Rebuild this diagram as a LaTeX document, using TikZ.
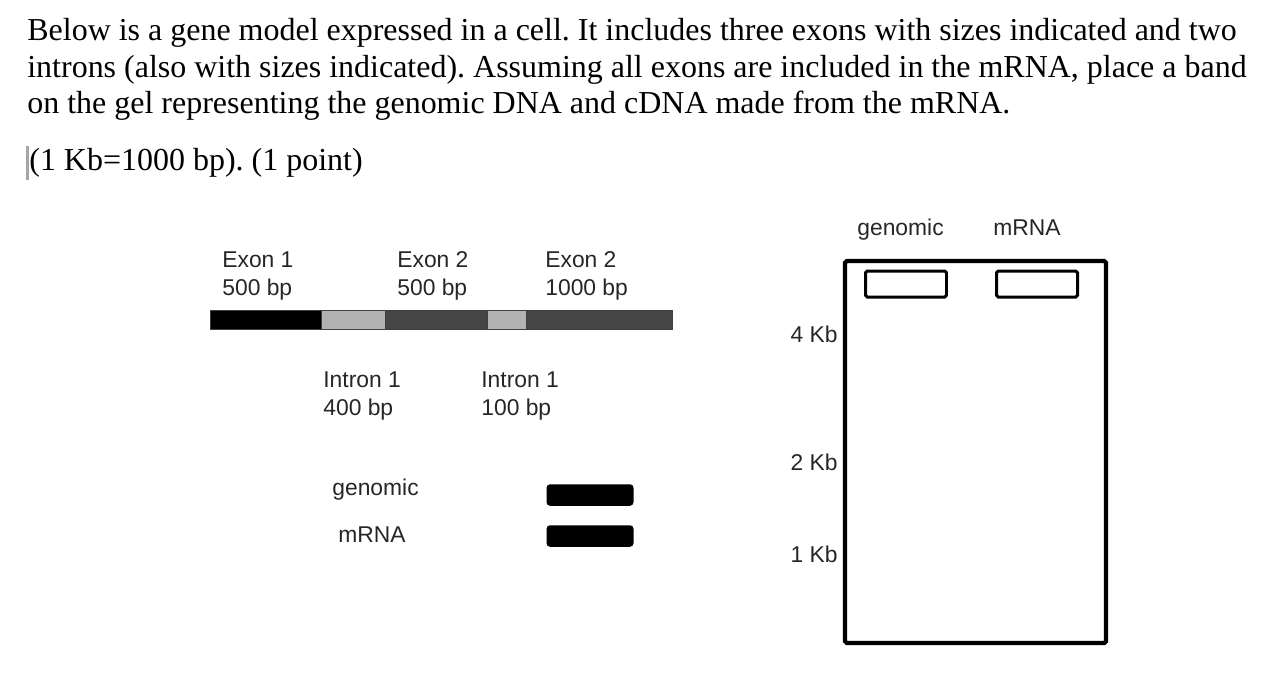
\documentclass[tikz,border=0pt]{standalone}
\usepackage{fontspec}
\setmainfont{Liberation Serif}
\setsansfont{Liberation Sans}
\usetikzlibrary{positioning}
\frenchspacing

\tikzset{
  question/.style={anchor=base west, inner sep=0pt, font=\fontsize{18.2}{22}\selectfont},
  lbl/.style={anchor=base west, inner sep=0pt, text=black!85, font=\sffamily\fontsize{13}{15}\selectfont},
  seg/.style={draw=black!75, thin, minimum height=0.38cm, inner sep=0pt, outer sep=0pt, anchor=west},
  well/.style={draw, line width=1.7pt, rounded corners=1pt, minimum width=1.62cm, minimum height=0.52cm, inner sep=0pt},
  band/.style={fill=black, rounded corners=2pt, minimum width=1.74cm, minimum height=0.43cm, inner sep=0pt}
}

\begin{document}
\begin{tikzpicture}[x=0.02cm, y=-0.02cm]
  \useasboundingbox (0,0) rectangle (1274,698);

  % Question text
  \node[question] (q1) at (27,40) {Below is a gene model expressed in a cell. It includes three exons with sizes indicated and two};
  \node[question] (q2) at (27,77) {introns (also with sizes indicated). Assuming all exons are included in the mRNA, place a band};
  \node[question] (q3) at (27,113) {on the gel representing the genomic DNA and cDNA made from the mRNA.};
  \node[question] (q4) at (29,170) {(1 Kb=1000 bp). (1 point)};
  \fill[black!35] (26,146) rectangle (29,180);

  % Gene model
  \node[seg, fill=black] (ex1) at (210,320) [minimum width=2.22cm] {};
  \node[seg, fill=black!30, right=0pt of ex1] (in1) [minimum width=1.28cm] {};
  \node[seg, fill=black!73, right=0pt of in1] (ex2) [minimum width=2.04cm] {};
  \node[seg, fill=black!30, right=0pt of ex2] (in2) [minimum width=0.78cm] {};
  \node[seg, fill=black!73, right=0pt of in2] (ex3) [minimum width=2.92cm] {};

  \node[lbl] (ex1name) at (222,267) {Exon 1};
  \node[lbl] (ex1size) at (222,295) {500 bp};
  \node[lbl] (ex2name) at (397,267) {Exon 2};
  \node[lbl] (ex2size) at (397,295) {500 bp};
  \node[lbl] (ex3name) at (545,267) {Exon 2};
  \node[lbl] (ex3size) at (545,295) {1000 bp};

  \node[lbl] (in1name) at (323,387) {Intron 1};
  \node[lbl] (in1size) at (323,415) {400 bp};
  \node[lbl] (in2name) at (481,387) {Intron 1};
  \node[lbl] (in2size) at (481,415) {100 bp};

  % Legend bands
  \node[lbl] (keygen) at (332,495) {genomic};
  \node[lbl] (keyrna) at (338,542) {mRNA};
  \node[band] (bandgen) at (590,495) {};
  \node[band] (bandrna) at (590,536) {};

  % Gel
  \draw[line width=2.4pt, rounded corners=1pt] (845,261) rectangle (1106,643);
  \node[well] (wellgen) at (906,284) {};
  \node[well] (wellrna) at (1037,284) {};
  \node[lbl] (lanegen) at (857,235) {genomic};
  \node[lbl] (lanerna) at (993,235) {mRNA};

  \node[lbl, anchor=base east] (kb4) at (838,342) {4 Kb};
  \node[lbl, anchor=base east] (kb2) at (838,470) {2 Kb};
  \node[lbl, anchor=base east] (kb1) at (838,562) {1 Kb};
\end{tikzpicture}
\end{document}
